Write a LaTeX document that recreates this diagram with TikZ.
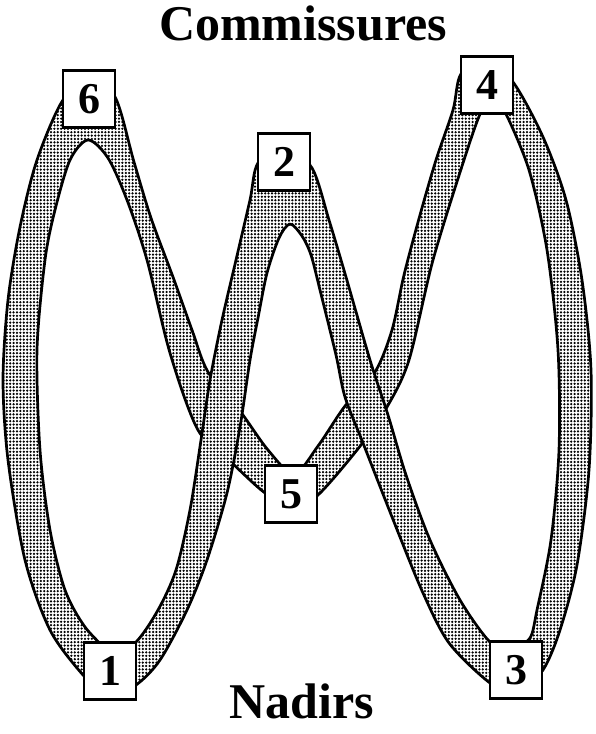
\documentclass[tikz,border=0pt]{standalone}
\usepackage{fontspec}
\setmainfont{Liberation Serif}
\usetikzlibrary{patterns.meta}
\tikzset{
  band/.style={line width=2.7pt, line join=round, preaction={fill=white},
    pattern={Dots[distance=3.4pt, radius=1.25pt]}, pattern color=black},
  numbox/.style={draw, line width=2.2pt, fill=white, minimum width=52pt,
    minimum height=57pt, inner sep=0pt, font=\fontsize{44}{44}\selectfont\bfseries},
  title/.style={font=\fontsize{50}{50}\selectfont\bfseries, anchor=base, inner sep=0pt,
    text height=34pt, text depth=0pt}
}
\begin{document}
\begin{tikzpicture}[x=1pt,y=-1pt]
\useasboundingbox (0,0) rectangle (596,734);
% lower layer: right loop, bowl at 5, left loop
\draw[band] plot[smooth] coordinates {(518,694) (543,670) (560,630) (577,565) (589,470) (591,370) (582,280) (566,200) (543,137) (513,82) (487,63) (461,74) (453,110) (436,160) (420,215) (404,275) (392,330) (375,372) (345,406) (318,446) (294,474) (268,450) (240,411) (208,372) (192,330) (173,277) (151,218) (134,162) (115,97) (89,84) (63,100) (37,160) (20,227) (8,300) (3,380) (8,460) (25,560) (50,630) (83,675) (108,697)}
  -- plot[smooth] coordinates {(112,655) (85,627) (65,590) (50,530) (40,450) (37,350) (45,260) (55,210) (70,160) (88,140) (108,158) (127,200) (147,260) (170,353) (198,430) (232,463) (265,493) (292,507) (318,495) (361,445) (387,407) (409,360) (433,260) (464,160) (481,112) (493,100) (505,112) (529,170) (547,250) (558,350) (559,450) (551,540) (537,610) (530,638) (512,650)} -- cycle;
% upper layer: 1 -> 2 -> 3
\draw[band] plot[smooth] coordinates {(108,697) (136,685) (160,660) (187,610) (207,560) (227,493) (240,427) (250,360) (258,318) (267,273) (279,238) (290,224) (302,236) (311,255) (320,290) (336,355) (345,397) (363,443) (396,527) (423,593) (449,643) (490,683) (518,694)}
  -- plot[smooth] coordinates {(512,650) (490,642) (460,600) (430,540) (406,475) (388,415) (370,360) (346,277) (329,220) (312,168) (285,148) (258,163) (250,200) (236,260) (222,320) (210,380) (201,440) (190,510) (176,570) (158,610) (136,642) (112,655)} -- cycle;
% boxes
\node[numbox] (n6) at (89,99) {6};
\node[numbox] (n2) at (284,162) {2};
\node[numbox] (n4) at (487,85) {4};
\node[numbox] (n5) at (291,494) {5};
\node[numbox] (n1) at (110,671) {1};
\node[numbox] (n3) at (516,670) {3};
% titles
\node[title] (top) at (303,40) {Commissures};
\node[title] (bottom) at (302,718) {Nadirs};
\end{tikzpicture}
\end{document}
